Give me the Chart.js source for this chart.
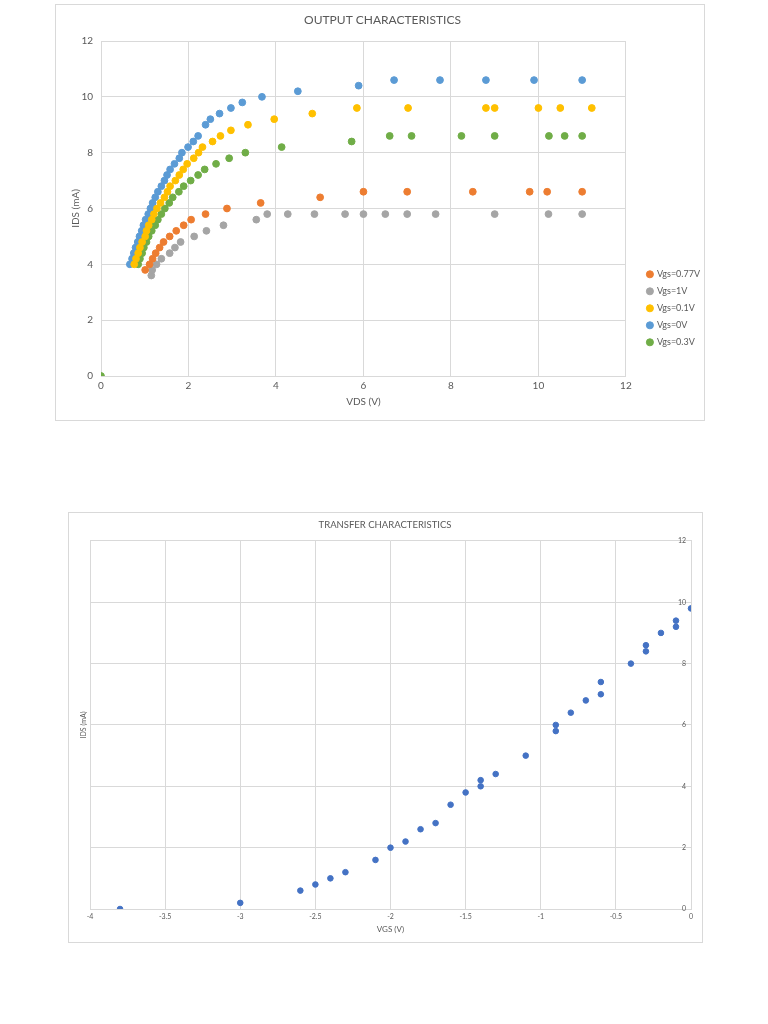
<!DOCTYPE html>
<html>
<head>
<meta charset="utf-8">
<script src="https://cdn.jsdelivr.net/npm/chart.js"></script>
<style>
  body { margin: 0; background: #fff; }
  .box { position: absolute; border: 1px solid #d9d9d9; background: #fff; }
  canvas { position: absolute; }
</style>
</head>
<body>
<div class="box" style="left:55px;top:4px;width:648px;height:415px"></div>
<canvas id="outChart" width="655" height="416" style="left:55px;top:4px"></canvas>

<div class="box" style="left:68px;top:512px;width:633px;height:429px"></div>
<canvas id="trChart" width="634" height="430" style="left:68px;top:512px"></canvas>

<script>
// --- output characteristics (VDS in V, IDS in mA) ---
const seriesNames = ['Vgs=0.77V', 'Vgs=1V', 'Vgs=0.1V', 'Vgs=0V', 'Vgs=0.3V'];
const seriesColors = ['#ED7D31', '#A5A5A5', '#FFC000', '#5B9BD5', '#70AD47'];

const vdsVgs077 = [1.01, 1.11, 1.18, 1.25, 1.34, 1.43, 1.57, 1.72, 1.89, 2.06, 2.39, 2.88, 3.65, 5.01,
  6.0, 7.0, 8.5, 9.8, 10.2, 11.0];
const idsVgs077 = [3.8, 4.0, 4.2, 4.4, 4.6, 4.8, 5.0, 5.2, 5.4, 5.6, 5.8, 6.0, 6.2, 6.4,
  6.6, 6.6, 6.6, 6.6, 6.6, 6.6];

const vdsVgs1 = [1.15, 1.17, 1.27, 1.38, 1.57, 1.69, 1.82, 2.13, 2.41, 2.80, 3.55, 3.80, 4.27, 4.88,
  5.58, 6.0, 6.5, 7.0, 7.65, 9.0, 10.23, 11.0];
const idsVgs1 = [3.6, 3.8, 4.0, 4.2, 4.4, 4.6, 4.8, 5.0, 5.2, 5.4, 5.6, 5.8, 5.8, 5.8,
  5.8, 5.8, 5.8, 5.8, 5.8, 5.8, 5.8, 5.8];

const vdsVgs01 = [0.76, 0.80, 0.85, 0.89, 0.94, 1.01, 1.04, 1.09, 1.16, 1.21, 1.28, 1.36, 1.45,
  1.52, 1.58, 1.70, 1.79, 1.88, 1.97, 2.12, 2.23, 2.32, 2.55, 2.73, 2.97, 3.36, 3.96, 4.83,
  5.85, 7.02, 8.8, 9.0, 10.0, 10.5, 11.22];
const idsVgs01 = [4.0, 4.2, 4.4, 4.6, 4.8, 5.0, 5.2, 5.4, 5.6, 5.8, 6.0, 6.2, 6.4,
  6.6, 6.8, 7.0, 7.2, 7.4, 7.6, 7.8, 8.0, 8.2, 8.4, 8.6, 8.8, 9.0, 9.2, 9.4,
  9.6, 9.6, 9.6, 9.6, 9.6, 9.6, 9.6];

const vdsVgs0 = [0.66, 0.71, 0.75, 0.79, 0.84, 0.88, 0.93, 0.97, 1.02, 1.08, 1.13, 1.18, 1.24,
  1.30, 1.38, 1.45, 1.51, 1.58, 1.68, 1.79, 1.85, 1.99, 2.11, 2.22, 2.39, 2.50, 2.71, 2.97,
  3.23, 3.68, 4.50, 5.89, 6.7, 7.75, 8.8, 9.9, 11.0];
const idsVgs0 = [4.0, 4.2, 4.4, 4.6, 4.8, 5.0, 5.2, 5.4, 5.6, 5.8, 6.0, 6.2, 6.4,
  6.6, 6.8, 7.0, 7.2, 7.4, 7.6, 7.8, 8.0, 8.2, 8.4, 8.6, 9.0, 9.2, 9.4, 9.6,
  9.8, 10.0, 10.2, 10.4, 10.6, 10.6, 10.6, 10.6, 10.6];

const vdsVgs03 = [0, 0.85, 0.89, 0.94, 0.98, 1.04, 1.09, 1.16, 1.24, 1.30, 1.38, 1.46, 1.56, 1.64,
  1.78, 1.89, 2.05, 2.22, 2.37, 2.63, 2.93, 3.30, 4.13, 5.73, 6.6, 7.1, 8.24, 9.0, 10.24, 10.6, 11.0];
const idsVgs03 = [0, 4.0, 4.2, 4.4, 4.6, 4.8, 5.0, 5.2, 5.4, 5.6, 5.8, 6.0, 6.2, 6.4,
  6.6, 6.8, 7.0, 7.2, 7.4, 7.6, 7.8, 8.0, 8.2, 8.4, 8.6, 8.6, 8.6, 8.6, 8.6, 8.6, 8.6];

const vdsSets = [vdsVgs077, vdsVgs1, vdsVgs01, vdsVgs0, vdsVgs03];
const idsSets = [idsVgs077, idsVgs1, idsVgs01, idsVgs0, idsVgs03];

// --- transfer characteristics ---
const vgsValues = [-3.8, -3.0, -2.6, -2.5, -2.4, -2.3, -2.1, -2.0, -1.9, -1.8, -1.7, -1.6, -1.5,
  -1.4, -1.4, -1.3, -1.1, -0.9, -0.9, -0.8, -0.7, -0.6, -0.6, -0.4, -0.3, -0.3, -0.2, -0.1, -0.1, 0];
const idsValues = [0, 0.2, 0.6, 0.8, 1.0, 1.2, 1.6, 2.0, 2.2, 2.6, 2.8, 3.4, 3.8,
  4.0, 4.2, 4.4, 5.0, 5.8, 6.0, 6.4, 6.8, 7.0, 7.4, 8.0, 8.4, 8.6, 9.0, 9.2, 9.4, 9.8];

Chart.defaults.font.family = 'Lato, "Open Sans", sans-serif';
Chart.defaults.color = '#595959';
const gridColor = '#d9d9d9';

new Chart(document.getElementById('outChart'), {
  type: 'scatter',
  data: {
    datasets: seriesNames.map((name, i) => ({
      label: name,
      data: vdsSets[i].map((x, j) => ({ x: x, y: idsSets[i][j] })),
      backgroundColor: seriesColors[i],
      borderColor: seriesColors[i],
      pointRadius: 3.4,
      pointStyle: 'circle',
      yAxisID: 'y'
    }))
  },
  options: {
    responsive: false,
    animation: false,
    layout: { padding: 0 },
    plugins: {
      title: {
        display: true, text: 'OUTPUT CHARACTERISTICS', color: '#595959',
        font: { size: 12, weight: 'normal' }, padding: { top: 9, bottom: 13.6 }
      },
      legend: {
        position: 'right', align: 'start',
        // blank title only pushes the entries down to where the reference has them
        title: { display: true, text: ' ', font: { size: 9 }, padding: { top: 247, bottom: 0 } },
        labels: { usePointStyle: true, boxWidth: 5, boxHeight: 5, padding: 8, font: { size: 9 }, color: '#595959' }
      },
      tooltip: { enabled: false }
    },
    scales: {
      x: {
        type: 'linear', min: 0, max: 12,
        ticks: { stepSize: 2, padding: 4, font: { size: 10 } },
        grid: { color: gridColor, drawTicks: false },
        border: { color: gridColor },
        title: { display: true, text: 'VDS (V)', font: { size: 10 }, padding: { top: 0, bottom: 12 } },
        afterFit: s => { s.height = 44; }
      },
      y: {
        type: 'linear', position: 'left', min: 0, max: 12,
        ticks: { stepSize: 2, padding: 8, font: { size: 10 } },
        grid: { color: gridColor, drawTicks: false },
        border: { color: gridColor },
        title: { display: true, text: 'IDS (mA)', font: { size: 10 }, padding: { top: 15, bottom: 0 } },
        afterFit: s => { s.width = 46; }
      },
      gap: {
        type: 'linear', axis: 'y', position: 'right', display: true,
        ticks: { display: false }, grid: { display: false }, border: { display: false },
        afterFit: s => { s.width = 13.5; }
      }
    }
  }
});

new Chart(document.getElementById('trChart'), {
  type: 'scatter',
  data: {
    datasets: [{
      label: 'IDS (mA)',
      data: vgsValues.map((x, i) => ({ x: x, y: idsValues[i] })),
      backgroundColor: '#4472C4',
      borderColor: '#4472C4',
      pointRadius: 2.8,
      yAxisID: 'y'
    }]
  },
  options: {
    responsive: false,
    animation: false,
    layout: { padding: 0 },
    plugins: {
      legend: { display: false },
      title: {
        display: true, text: 'TRANSFER CHARACTERISTICS', color: '#595959',
        font: { size: 9.5, weight: 'normal' }, padding: { top: 7.5, bottom: 10 }
      },
      tooltip: { enabled: false }
    },
    scales: {
      x: {
        type: 'linear', min: -4, max: 0,
        ticks: { stepSize: 0.5, padding: 4, font: { size: 7 }, callback: v => String(v) },
        grid: { color: gridColor, drawTicks: false },
        border: { color: gridColor },
        title: { display: true, text: 'VGS (V)', font: { size: 8 }, padding: { top: 0, bottom: 8 } },
        afterFit: s => { s.height = 33; }
      },
      y: {
        type: 'linear', position: 'right', min: 0, max: 12,
        ticks: { stepSize: 2, mirror: true, padding: -5, font: { size: 7 } },
        grid: { color: gridColor, drawTicks: false },
        border: { color: gridColor },
        afterFit: s => { s.width = 11; }
      },
      yL: {
        type: 'linear', axis: 'y', position: 'left', display: true,
        ticks: { display: false }, grid: { display: false }, border: { display: false },
        title: { display: true, text: 'IDS (mA)', font: { size: 7 }, padding: { top: 12, bottom: 0 } },
        afterFit: s => { s.width = 22; }
      }
    }
  }
});
</script>
</body>
</html>
